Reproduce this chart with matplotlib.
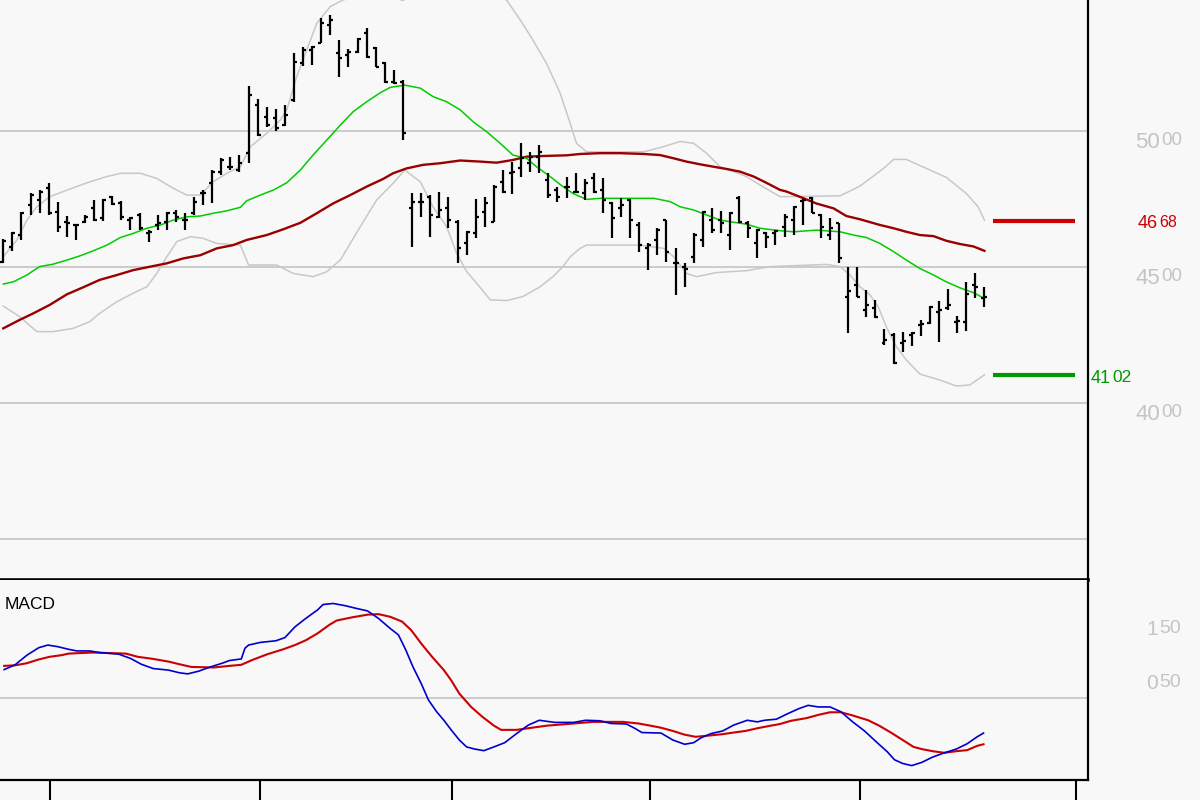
import numpy as np
import matplotlib
matplotlib.use("Agg")
import matplotlib.pyplot as plt
from matplotlib.transforms import blended_transform_factory, offset_copy

# ── price bars (one per session) ─────────────────────────────────────────────
highs = [46.00, 46.28, 47.02, 47.69, 47.81, 48.06, 47.39, 46.86, 46.56, 46.90,
         47.45, 47.48, 47.59, 47.42, 46.83, 46.96, 46.34, 46.90, 47.02, 47.08,
         46.96, 47.57, 47.81, 48.55, 48.98, 49.04, 49.10, 51.64, 51.15, 50.85,
         50.78, 50.94, 52.84, 53.06, 53.11, 54.13, 54.25, 53.33, 52.99, 53.39,
         53.76, 53.08, 52.53, 52.23, 51.86, 47.72, 47.72, 47.63, 47.75, 47.57,
         46.71, 46.32, 47.47, 47.57, 48.00, 48.55, 48.86, 49.53, 49.22, 49.47,
         48.45, 47.91, 48.30, 48.45, 48.21, 48.45, 48.24, 47.39, 47.51, 47.48,
         46.65, 45.85, 46.41, 46.71, 45.67, 45.12, 46.22, 47.05, 47.14, 47.05,
         47.02, 47.59, 46.69, 46.37, 46.28, 46.34, 46.92, 47.23, 47.47, 47.55,
         46.92, 46.77, 46.61, 45.00, 45.00, 44.14, 43.78, 42.69, 42.55, 42.61,
         42.61, 43.04, 43.55, 43.75, 44.16, 43.19, 44.44, 44.75, 44.24]
lows = [45.12, 45.58, 45.98, 46.90, 46.96, 46.90, 46.26, 46.10, 45.98, 46.59,
        46.69, 46.69, 47.26, 46.71, 46.34, 46.34, 45.92, 46.34, 46.34, 46.65,
        46.34, 46.90, 47.26, 47.32, 48.37, 48.55, 48.49, 48.80, 49.80, 50.14,
        50.00, 50.17, 51.06, 52.37, 52.41, 53.21, 53.51, 51.96, 52.35, 52.86,
        52.66, 52.35, 51.74, 51.71, 49.65, 45.71, 46.81, 46.10, 46.77, 46.41,
        45.12, 45.42, 46.04, 46.47, 46.65, 47.72, 47.67, 48.28, 48.49, 48.43,
        47.51, 47.39, 47.51, 47.69, 47.45, 47.72, 46.96, 46.04, 46.83, 46.04,
        45.55, 44.87, 45.42, 45.18, 43.95, 44.26, 45.12, 45.73, 46.22, 46.22,
        45.61, 46.61, 46.04, 45.30, 45.67, 45.79, 46.10, 46.18, 46.53, 46.96,
        46.04, 45.98, 45.12, 42.55, 43.87, 43.16, 43.10, 42.12, 41.41, 41.87,
        42.09, 42.46, 42.88, 42.24, 43.40, 42.55, 42.64, 43.83, 43.50]
opens = [45.18, 45.73, 46.16, 47.26, 47.45, 47.88, 47.02, 46.65, 46.53, 46.65,
         47.14, 46.77, 47.57, 47.32, 46.71, 46.90, 46.22, 46.53, 46.65, 46.96,
         46.71, 46.96, 47.69, 48.06, 48.49, 48.67, 48.55, 49.16, 50.94, 50.51,
         50.45, 50.20, 51.12, 52.47, 52.96, 53.21, 53.88, 52.84, 52.78, 52.90,
         53.57, 53.02, 52.47, 51.80, 51.80, 47.14, 47.39, 47.57, 46.83, 47.14,
         46.65, 45.85, 46.22, 47.02, 46.65, 48.12, 48.43, 48.61, 48.80, 49.04,
         48.18, 47.81, 47.94, 47.75, 47.69, 48.24, 47.81, 47.32, 47.14, 47.45,
         46.53, 45.67, 45.98, 46.71, 45.12, 45.00, 45.36, 45.98, 46.71, 46.71,
         46.16, 47.51, 46.59, 45.85, 46.22, 46.22, 46.47, 46.71, 47.41, 47.51,
         46.90, 46.16, 46.59, 43.89, 44.32, 43.40, 43.46, 42.18, 42.48, 42.18,
         42.48, 42.85, 42.91, 43.34, 43.46, 42.97, 42.97, 44.32, 43.83]
closes = [45.95, 46.22, 46.96, 47.63, 47.75, 46.96, 46.47, 46.59, 46.53, 46.83,
          46.71, 47.45, 47.30, 46.83, 46.77, 46.41, 46.28, 46.59, 46.96, 46.83,
          46.71, 47.39, 47.69, 48.49, 48.92, 48.67, 48.80, 51.31, 49.84, 50.20,
          50.08, 50.57, 52.53, 52.96, 53.08, 53.94, 54.06, 52.66, 52.90, 53.35,
          52.72, 52.35, 51.80, 51.76, 49.90, 47.39, 47.36, 46.90, 47.08, 46.71,
          45.67, 46.28, 46.83, 47.32, 47.94, 47.75, 48.49, 48.98, 49.04, 49.22,
          47.63, 47.57, 47.94, 47.75, 48.06, 47.75, 47.45, 46.77, 47.26, 46.71,
          45.79, 45.79, 46.34, 45.55, 45.12, 44.90, 46.16, 47.02, 46.34, 46.59,
          46.96, 46.65, 46.41, 46.34, 46.10, 46.30, 46.83, 47.20, 47.45, 46.98,
          46.47, 46.41, 45.30, 44.11, 43.89, 43.59, 43.16, 42.30, 41.44, 42.28,
          42.55, 42.90, 43.53, 43.40, 43.59, 43.00, 43.99, 44.26, 43.89]

ma_short_x = [0.0, 1.1, 2.6, 4.0, 5.5, 7.0, 8.4, 9.9, 11.4, 12.9, 14.3, 15.8,
              17.3, 18.7, 20.2, 21.7, 23.1, 24.6, 26.1, 26.8, 28.3, 29.7, 31.2,
              32.7, 34.1, 35.6, 37.1, 38.5, 40.0, 41.5, 42.6, 44.2, 45.9, 47.3,
              48.8, 50.3, 51.7, 53.2, 54.7, 56.1, 57.6, 58.7, 60.2, 61.6, 62.7,
              64.2, 65.7, 67.1, 71.6, 73.4, 74.5, 76.0, 77.4, 78.9, 80.4, 81.8,
              83.3, 85.5, 87.0, 89.5, 92.1, 93.6, 95.0, 96.5, 98.0, 99.4, 100.9,
              102.4, 103.8, 105.3, 106.8, 108.0]
ma_short = [44.36, 44.44, 44.69, 45.00, 45.09, 45.24, 45.39, 45.58, 45.79, 46.07,
            46.22, 46.41, 46.53, 46.71, 46.83, 46.86, 46.96, 47.05, 47.18, 47.42,
            47.63, 47.81, 48.08, 48.55, 49.10, 49.65, 50.20, 50.69, 51.06, 51.39,
            51.59, 51.67, 51.56, 51.25, 51.06, 50.76, 50.33, 49.96, 49.53, 49.10,
            48.98, 48.67, 48.31, 47.94, 47.69, 47.47, 47.51, 47.51, 47.51, 47.39,
            47.20, 47.08, 46.90, 46.71, 46.63, 46.56, 46.41, 46.32, 46.28, 46.34,
            46.28, 46.16, 46.07, 45.85, 45.55, 45.24, 44.93, 44.69, 44.44, 44.22,
            44.04, 43.83]

ma_long_x = [0.0, 1.8, 3.3, 5.1, 7.0, 8.8, 10.6, 12.5, 14.3, 16.2, 18.0, 19.8,
             21.7, 23.5, 25.3, 26.8, 29.0, 30.8, 32.7, 34.5, 36.3, 38.2, 40.0,
             41.8, 42.9, 44.4, 46.2, 48.1, 50.3, 52.5, 54.3, 56.1, 57.6, 59.8,
             62.0, 63.5, 65.7, 67.9, 70.5, 72.3, 73.8, 75.2, 76.7, 78.2, 79.6,
             81.1, 82.6, 84.0, 85.5, 86.2, 88.1, 89.5, 91.4, 92.8, 94.3, 96.5,
             98.0, 99.4, 100.9, 102.4, 103.8, 105.3, 106.8, 108.0]
ma_long = [42.73, 43.04, 43.28, 43.59, 43.98, 44.24, 44.51, 44.69, 44.87, 45.00,
           45.12, 45.30, 45.42, 45.67, 45.79, 45.98, 46.16, 46.37, 46.61, 46.96,
           47.32, 47.63, 47.94, 48.22, 48.43, 48.61, 48.74, 48.80, 48.90, 48.86,
           48.82, 48.92, 49.04, 49.07, 49.09, 49.14, 49.17, 49.17, 49.14, 49.10,
           48.98, 48.86, 48.76, 48.67, 48.59, 48.49, 48.31, 48.08, 47.82, 47.76,
           47.51, 47.32, 47.14, 46.86, 46.74, 46.53, 46.41, 46.28, 46.16, 46.12,
           45.95, 45.83, 45.74, 45.58]

bb_upper_x = [0.0, 1.5, 2.6, 3.7, 5.1, 7.0, 9.2, 11.4, 12.9, 15.1, 16.9, 18.7,
              20.2, 21.7, 23.1, 24.6, 26.1, 27.2, 29.0, 30.5, 31.2, 32.3, 33.4,
              34.5, 36.0, 37.4, 39.5, 42.0, 44.0, 46.5, 49.5, 52.5, 55.4, 56.9,
              58.3, 59.8, 61.3, 62.4, 63.1, 64.2, 67.1, 70.5, 72.7, 74.5, 76.0,
              77.4, 78.9, 80.4, 81.8, 83.3, 85.5, 92.1, 94.3, 96.9, 98.0, 99.4,
              101.6, 103.8, 106.0, 107.3, 108.0]
bb_upper = [45.36, 45.98, 46.71, 47.20, 47.57, 47.81, 48.08, 48.31, 48.43, 48.43,
            48.24, 47.88, 47.63, 47.63, 48.12, 48.43, 48.67, 49.41, 49.90, 50.39,
            50.76, 51.98, 52.96, 53.94, 54.56, 54.80, 55.00, 55.00, 54.78, 55.40,
            55.80, 55.50, 54.80, 54.07, 53.33, 52.47, 51.37, 50.27, 49.53, 49.22,
            49.22, 49.22, 49.41, 49.60, 49.53, 49.17, 48.67, 48.49, 48.31, 48.00,
            47.57, 47.60, 47.96, 48.61, 48.94, 48.94, 48.61, 48.28, 47.69, 47.20,
            46.71]

bb_lower_x = [0.0, 1.8, 3.7, 5.5, 7.7, 9.5, 10.6, 12.5, 14.3, 15.8, 16.9, 18.0,
              19.1, 20.6, 22.0, 23.5, 26.1, 27.0, 30.1, 31.9, 34.1, 35.6, 37.1,
              39.3, 41.1, 42.9, 44.2, 45.9, 47.3, 48.8, 49.9, 51.0, 52.1, 53.6,
              55.4, 57.2, 59.1, 60.5, 61.6, 62.4, 63.5, 64.2, 67.1, 70.1, 72.7,
              73.8, 75.2, 76.3, 78.5, 81.8, 84.4, 90.6, 92.1, 93.2, 94.3, 95.4,
              96.3, 97.2, 98.3, 99.4, 100.9, 103.1, 104.9, 106.4, 108.0]
bb_lower = [43.55, 43.16, 42.61, 42.61, 42.73, 42.97, 43.28, 43.71, 44.02, 44.26,
            44.75, 45.36, 45.92, 46.10, 46.04, 45.85, 45.79, 45.06, 45.06, 44.75,
            44.63, 44.81, 45.24, 46.47, 47.45, 48.06, 48.55, 48.12, 47.20, 46.47,
            45.49, 44.82, 44.39, 43.78, 43.75, 43.90, 44.26, 44.63, 45.00, 45.36,
            45.67, 45.79, 45.79, 45.79, 45.67, 45.36, 44.75, 44.63, 44.78, 44.85,
            45.00, 45.08, 45.00, 44.69, 44.26, 43.96, 43.53, 42.79, 42.06, 41.57,
            41.05, 40.83, 40.61, 40.65, 41.02]

# ── MACD panel ───────────────────────────────────────────────────────────────
macd_x = [0.1, 1.3, 2.6, 3.9, 4.9, 6.0, 7.2, 8.1, 9.5, 10.6, 12.7, 14.0, 15.2,
          16.5, 18.2, 19.4, 20.3, 21.5, 22.8, 24.1, 24.9, 26.2, 26.6, 27.0,
          28.3, 30.0, 31.0, 32.1, 33.3, 34.6, 35.2, 36.3, 37.6, 38.8, 40.1,
          41.3, 42.6, 43.5, 44.3, 45.1, 46.0, 46.8, 47.7, 48.5, 49.3, 50.2,
          51.0, 51.9, 52.9, 54.0, 55.2, 56.5, 57.8, 59.0, 60.7, 62.8, 64.1,
          65.7, 66.9, 68.6, 69.5, 70.3, 72.4, 73.7, 75.0, 76.0, 76.8, 77.9,
          79.2, 80.4, 81.9, 83.0, 83.8, 85.1, 86.3, 87.6, 88.6, 89.7, 91.0,
          92.2, 93.5, 94.8, 96.0, 97.3, 98.1, 99.0, 100.0, 101.1, 102.3,
          103.6, 104.9, 106.1, 107.2, 107.9]
macd = [0.54, 0.63, 0.81, 0.95, 1.00, 0.97, 0.92, 0.89, 0.89, 0.86, 0.83, 0.75,
        0.64, 0.56, 0.53, 0.48, 0.46, 0.51, 0.59, 0.66, 0.71, 0.74, 0.94, 1.00,
        1.05, 1.08, 1.14, 1.34, 1.50, 1.66, 1.76, 1.78, 1.74, 1.69, 1.64, 1.50,
        1.31, 1.19, 0.91, 0.59, 0.28, -0.03, -0.25, -0.41, -0.59, -0.78, -0.91,
        -0.95, -0.98, -0.91, -0.83, -0.66, -0.50, -0.41, -0.45, -0.45, -0.41,
        -0.42, -0.47, -0.48, -0.56, -0.64, -0.65, -0.78, -0.86, -0.83, -0.74,
        -0.66, -0.61, -0.50, -0.41, -0.44, -0.41, -0.39, -0.29, -0.19, -0.13,
        -0.16, -0.16, -0.25, -0.44, -0.61, -0.80, -1.00, -1.15, -1.22, -1.26,
        -1.20, -1.10, -1.02, -0.95, -0.85, -0.72, -0.65]

signal_x = [0.1, 1.3, 2.6, 3.9, 5.1, 6.4, 7.2, 9.8, 13.5, 14.8, 16.5, 18.2,
            19.4, 20.7, 23.2, 24.9, 26.2, 27.4, 29.1, 30.8, 32.1, 33.3, 34.6,
            35.9, 36.7, 38.4, 40.1, 41.3, 42.6, 43.9, 44.9, 46.0, 47.2, 48.5,
            49.3, 50.2, 51.5, 52.7, 54.0, 54.8, 56.5, 58.6, 59.9, 62.8, 64.9,
            68.2, 69.9, 71.2, 72.4, 73.7, 75.0, 76.2, 77.5, 79.2, 80.4, 81.7,
            83.0, 84.2, 85.5, 86.7, 88.4, 89.7, 91.0, 92.2, 93.5, 95.2, 96.4,
            97.7, 99.0, 100.2, 101.1, 102.3, 103.6, 104.9, 106.1, 107.2, 107.9]
signal = [0.61, 0.62, 0.66, 0.73, 0.78, 0.81, 0.84, 0.86, 0.84, 0.78, 0.74, 0.69,
          0.64, 0.59, 0.58, 0.61, 0.63, 0.72, 0.83, 0.92, 1.00, 1.09, 1.22, 1.38,
          1.46, 1.52, 1.57, 1.58, 1.53, 1.44, 1.28, 1.03, 0.78, 0.53, 0.34, 0.09,
          -0.16, -0.34, -0.51, -0.59, -0.59, -0.54, -0.51, -0.47, -0.44, -0.44,
          -0.47, -0.51, -0.55, -0.61, -0.68, -0.72, -0.70, -0.67, -0.64, -0.61,
          -0.56, -0.52, -0.48, -0.42, -0.37, -0.31, -0.26, -0.26, -0.32, -0.41,
          -0.51, -0.64, -0.78, -0.91, -0.95, -0.99, -1.02, -0.99, -0.97, -0.89,
          -0.86]

price_grid = [50, 45, 40, 35]
price_ticks = [(50.0, "50", "00"), (45.0, "45", "00"), (40.0, "40", "00")]
macd_ticks = [(1.5, "1", "50"), (0.5, "0", "50")]
month_ticks = [5.1, 28.3, 49.4, 71.2, 94.3, 118.1]

resistance = 46.68
support = 41.02
level_span = (108.9, 118.0)

BG = "#f8f8f8"
GRID = "#c8c8c8"
LABEL_GRAY = "#c4c4c4"
XLIM = (-0.36, 119.4)

fig = plt.figure(figsize=(12, 8), dpi=100, facecolor=BG)
ax = fig.add_axes([0, 0.275, 1088 / 1200, 0.725], facecolor=BG)
axm = fig.add_axes([0, 0.025, 1088 / 1200, 0.25], facecolor=BG, sharex=ax)

# ── price panel ──────────────────────────────────────────────────────────────
for g in price_grid:
    ax.axhline(g, color=GRID, lw=1.3, zorder=1)

ax.plot(bb_upper_x, bb_upper, color=GRID, lw=1.1, zorder=2)
ax.plot(bb_lower_x, bb_lower, color=GRID, lw=1.1, zorder=2)
ax.plot(ma_long_x, ma_long, color="#990000", lw=1.7, zorder=3)
ax.plot(ma_short_x, ma_short, color="#00cc00", lw=1.1, zorder=3)

x = np.arange(len(closes))
ax.vlines(x, lows, highs, color="black", lw=1.6, zorder=4)
ax.hlines(opens, x - 0.33, x, color="black", lw=1.6, zorder=4)
ax.hlines(closes, x, x + 0.33, color="black", lw=1.6, zorder=4)

ax.hlines([resistance], *level_span, color="#cc0000", lw=3.0, zorder=4)
ax.hlines([support], *level_span, color="#009900", lw=3.0, zorder=4)

ax.set_xlim(*XLIM)
ax.set_ylim(33.48, 54.80)
ax.set_xticks([])
ax.set_yticks([])
for side in ("top", "left"):
    ax.spines[side].set_visible(False)
ax.spines["bottom"].set_linewidth(2.6)
ax.spines["right"].set_linewidth(1.6)


def split_label(axis, value, big, small, x_split, color, size_big, size_small, dy):
    tr = offset_copy(blended_transform_factory(fig.transFigure, axis.transData),
                     fig=fig, y=dy, units="dots")
    fig.text(x_split, value, big, transform=tr, ha="right", va="top",
             color=color, fontsize=size_big, family="Liberation Sans")
    fig.text(x_split + 1.5 / 1200, value, small, transform=tr, ha="left", va="top",
             color=color, fontsize=size_small, family="Liberation Sans")


for val, big, small in price_ticks:
    split_label(ax, val, big, small, 1160 / 1200, LABEL_GRAY, 16, 13.5, -1)

split_label(ax, resistance, "46", "68", 1158 / 1200, "#cc0000", 13, 11.5, 6)
split_label(ax, support, "41", "02", 1111 / 1200, "#009900", 13, 12.5, 5)

# ── MACD panel ───────────────────────────────────────────────────────────────
axm.axhline(0, color=GRID, lw=1.3, zorder=1)
axm.plot(signal_x, signal, color="#cc0000", lw=1.5, zorder=3)
axm.plot(macd_x, macd, color="#0000cc", lw=1.2, zorder=3)
axm.set_ylim(-1.53, 2.22)
axm.set_yticks([])
axm.set_xticks(month_ticks)
axm.set_xticklabels([])
axm.tick_params(axis="x", direction="out", length=14.5, width=1.5, color="black")
for side in ("top", "left"):
    axm.spines[side].set_visible(False)
axm.spines["bottom"].set_linewidth(1.6)
axm.spines["right"].set_linewidth(1.6)

for val, big, small in macd_ticks:
    split_label(axm, val, big, small, 1158 / 1200, LABEL_GRAY, 15, 14, -2)

fig.text(5 / 1200, 1 - 597 / 800, "MACD", ha="left", va="top", color="black",
         fontsize=12.5, family="Liberation Sans")

fig.savefig("out.png", dpi=100, facecolor=BG)
